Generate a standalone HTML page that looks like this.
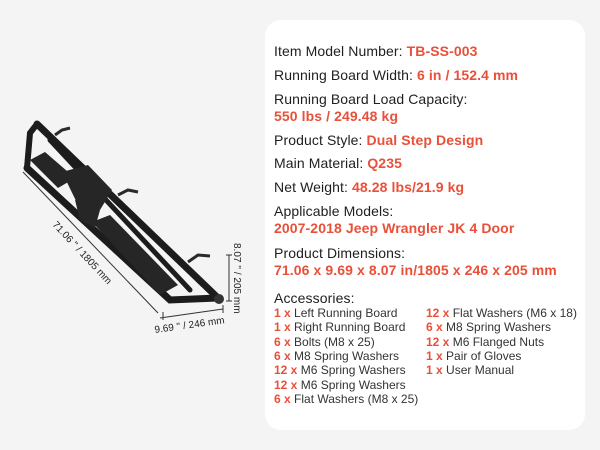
<!DOCTYPE html>
<html><head><meta charset="utf-8"><style>
body{margin:0;width:600px;height:450px;background:#f4f4f4;font-family:"Liberation Sans",sans-serif;position:relative;overflow:hidden}
.card{position:absolute;left:265px;top:20px;width:320px;height:410px;background:#fff;border-radius:16px}
.t{position:absolute;left:274px;font-size:14px;color:#1e1e1e;white-space:nowrap;letter-spacing:0.1px}
.r{color:#e9503a;font-weight:bold}
.a{position:absolute;font-size:12px;color:#333;white-space:nowrap;letter-spacing:0}
.a b{color:#e9503a}
</style></head><body>
<div class="card"></div>
<div class="t" style="top:43px">Item Model Number: <span class="r">TB-SS-003</span></div>
<div class="t" style="top:67px">Running Board Width: <span class="r">6 in / 152.4 mm</span></div>
<div class="t" style="top:91px">Running Board Load Capacity:</div>
<div class="t" style="top:108px"><span class="r">550 lbs / 249.48 kg</span></div>
<div class="t" style="top:132px">Product Style: <span class="r">Dual Step Design</span></div>
<div class="t" style="top:155px">Main Material: <span class="r">Q235</span></div>
<div class="t" style="top:179px">Net Weight: <span class="r">48.28 lbs/21.9 kg</span></div>
<div class="t" style="top:203px">Applicable Models:</div>
<div class="t" style="top:220px"><span class="r">2007-2018 Jeep Wrangler JK 4 Door</span></div>
<div class="t" style="top:245px">Product Dimensions:</div>
<div class="t" style="top:262px"><span class="r">71.06 x 9.69 x 8.07 in/1805 x 246 x 205 mm</span></div>
<div class="t" style="top:290px">Accessories:</div>
<div class="a" style="left:274px;top:306px"><b>1 x</b> Left Running Board</div>
<div class="a" style="left:274px;top:320px"><b>1 x</b> Right Running Board</div>
<div class="a" style="left:274px;top:335px"><b>6 x</b> Bolts (M8 x 25)</div>
<div class="a" style="left:274px;top:349px"><b>6 x</b> M8 Spring Washers</div>
<div class="a" style="left:274px;top:363px"><b>12 x</b> M6 Spring Washers</div>
<div class="a" style="left:274px;top:378px"><b>12 x</b> M6 Spring Washers</div>
<div class="a" style="left:274px;top:392px"><b>6 x</b> Flat Washers (M8 x 25)</div>
<div class="a" style="left:426px;top:306px"><b>12 x</b> Flat Washers (M6 x 18)</div>
<div class="a" style="left:426px;top:320px"><b>6 x</b> M8 Spring Washers</div>
<div class="a" style="left:426px;top:335px"><b>12 x</b> M6 Flanged Nuts</div>
<div class="a" style="left:426px;top:349px"><b>1 x</b> Pair of Gloves</div>
<div class="a" style="left:426px;top:363px"><b>1 x</b> User Manual</div>
<svg width="260" height="450" style="position:absolute;left:0;top:0" xmlns="http://www.w3.org/2000/svg">
<g stroke="#1c1c1c" stroke-linecap="round" fill="none">
<path d="M37 124 L218 298" stroke-width="7"/>
<path d="M27 168 L30 133 L37 124" stroke-width="6"/>
<path d="M27 168 L170 300 L218 298" stroke-width="7"/>
<path d="M50 140 L190 290" stroke-width="5"/>
</g>
<g fill="#262626">
<polygon points="30,160 45,152 75,178 58,188"/>
<polygon points="62,172 88,165 112,190 100,210 78,205"/>
<polygon points="92,222 110,215 178,285 160,295"/>
<polygon points="75,200 100,210 95,228 80,220"/>
</g>
<g stroke="#2a2a2a" stroke-width="3" fill="none">
<path d="M55 135 L62 130 L70 128"/>
<path d="M118 195 L128 190 L138 192"/>
<path d="M188 262 L198 255 L210 256"/>
</g>
<circle cx="219" cy="299" r="5" fill="#333"/>
<g stroke="#333" stroke-width="1" fill="none">
<path d="M23 172 L158 313"/>
<path d="M163 312 L163 320 M160 318 L223 309 M223 305 L223 313"/>
<path d="M229 255 L229 301 M226 255 L232 255 M226 301 L232 301"/>
</g>
<text x="0" y="0" font-size="10" fill="#222" font-family="Liberation Sans" transform="translate(52,225) rotate(47)">71.06 '' / 1805 mm</text>
<text x="0" y="0" font-size="10" fill="#222" font-family="Liberation Sans" transform="translate(155,333) rotate(-8)">9.69 '' / 246 mm</text>
<text x="0" y="0" font-size="10" fill="#222" font-family="Liberation Sans" transform="translate(234,243) rotate(90)">8.07 '' / 205 mm</text>
</svg>
</body></html>
